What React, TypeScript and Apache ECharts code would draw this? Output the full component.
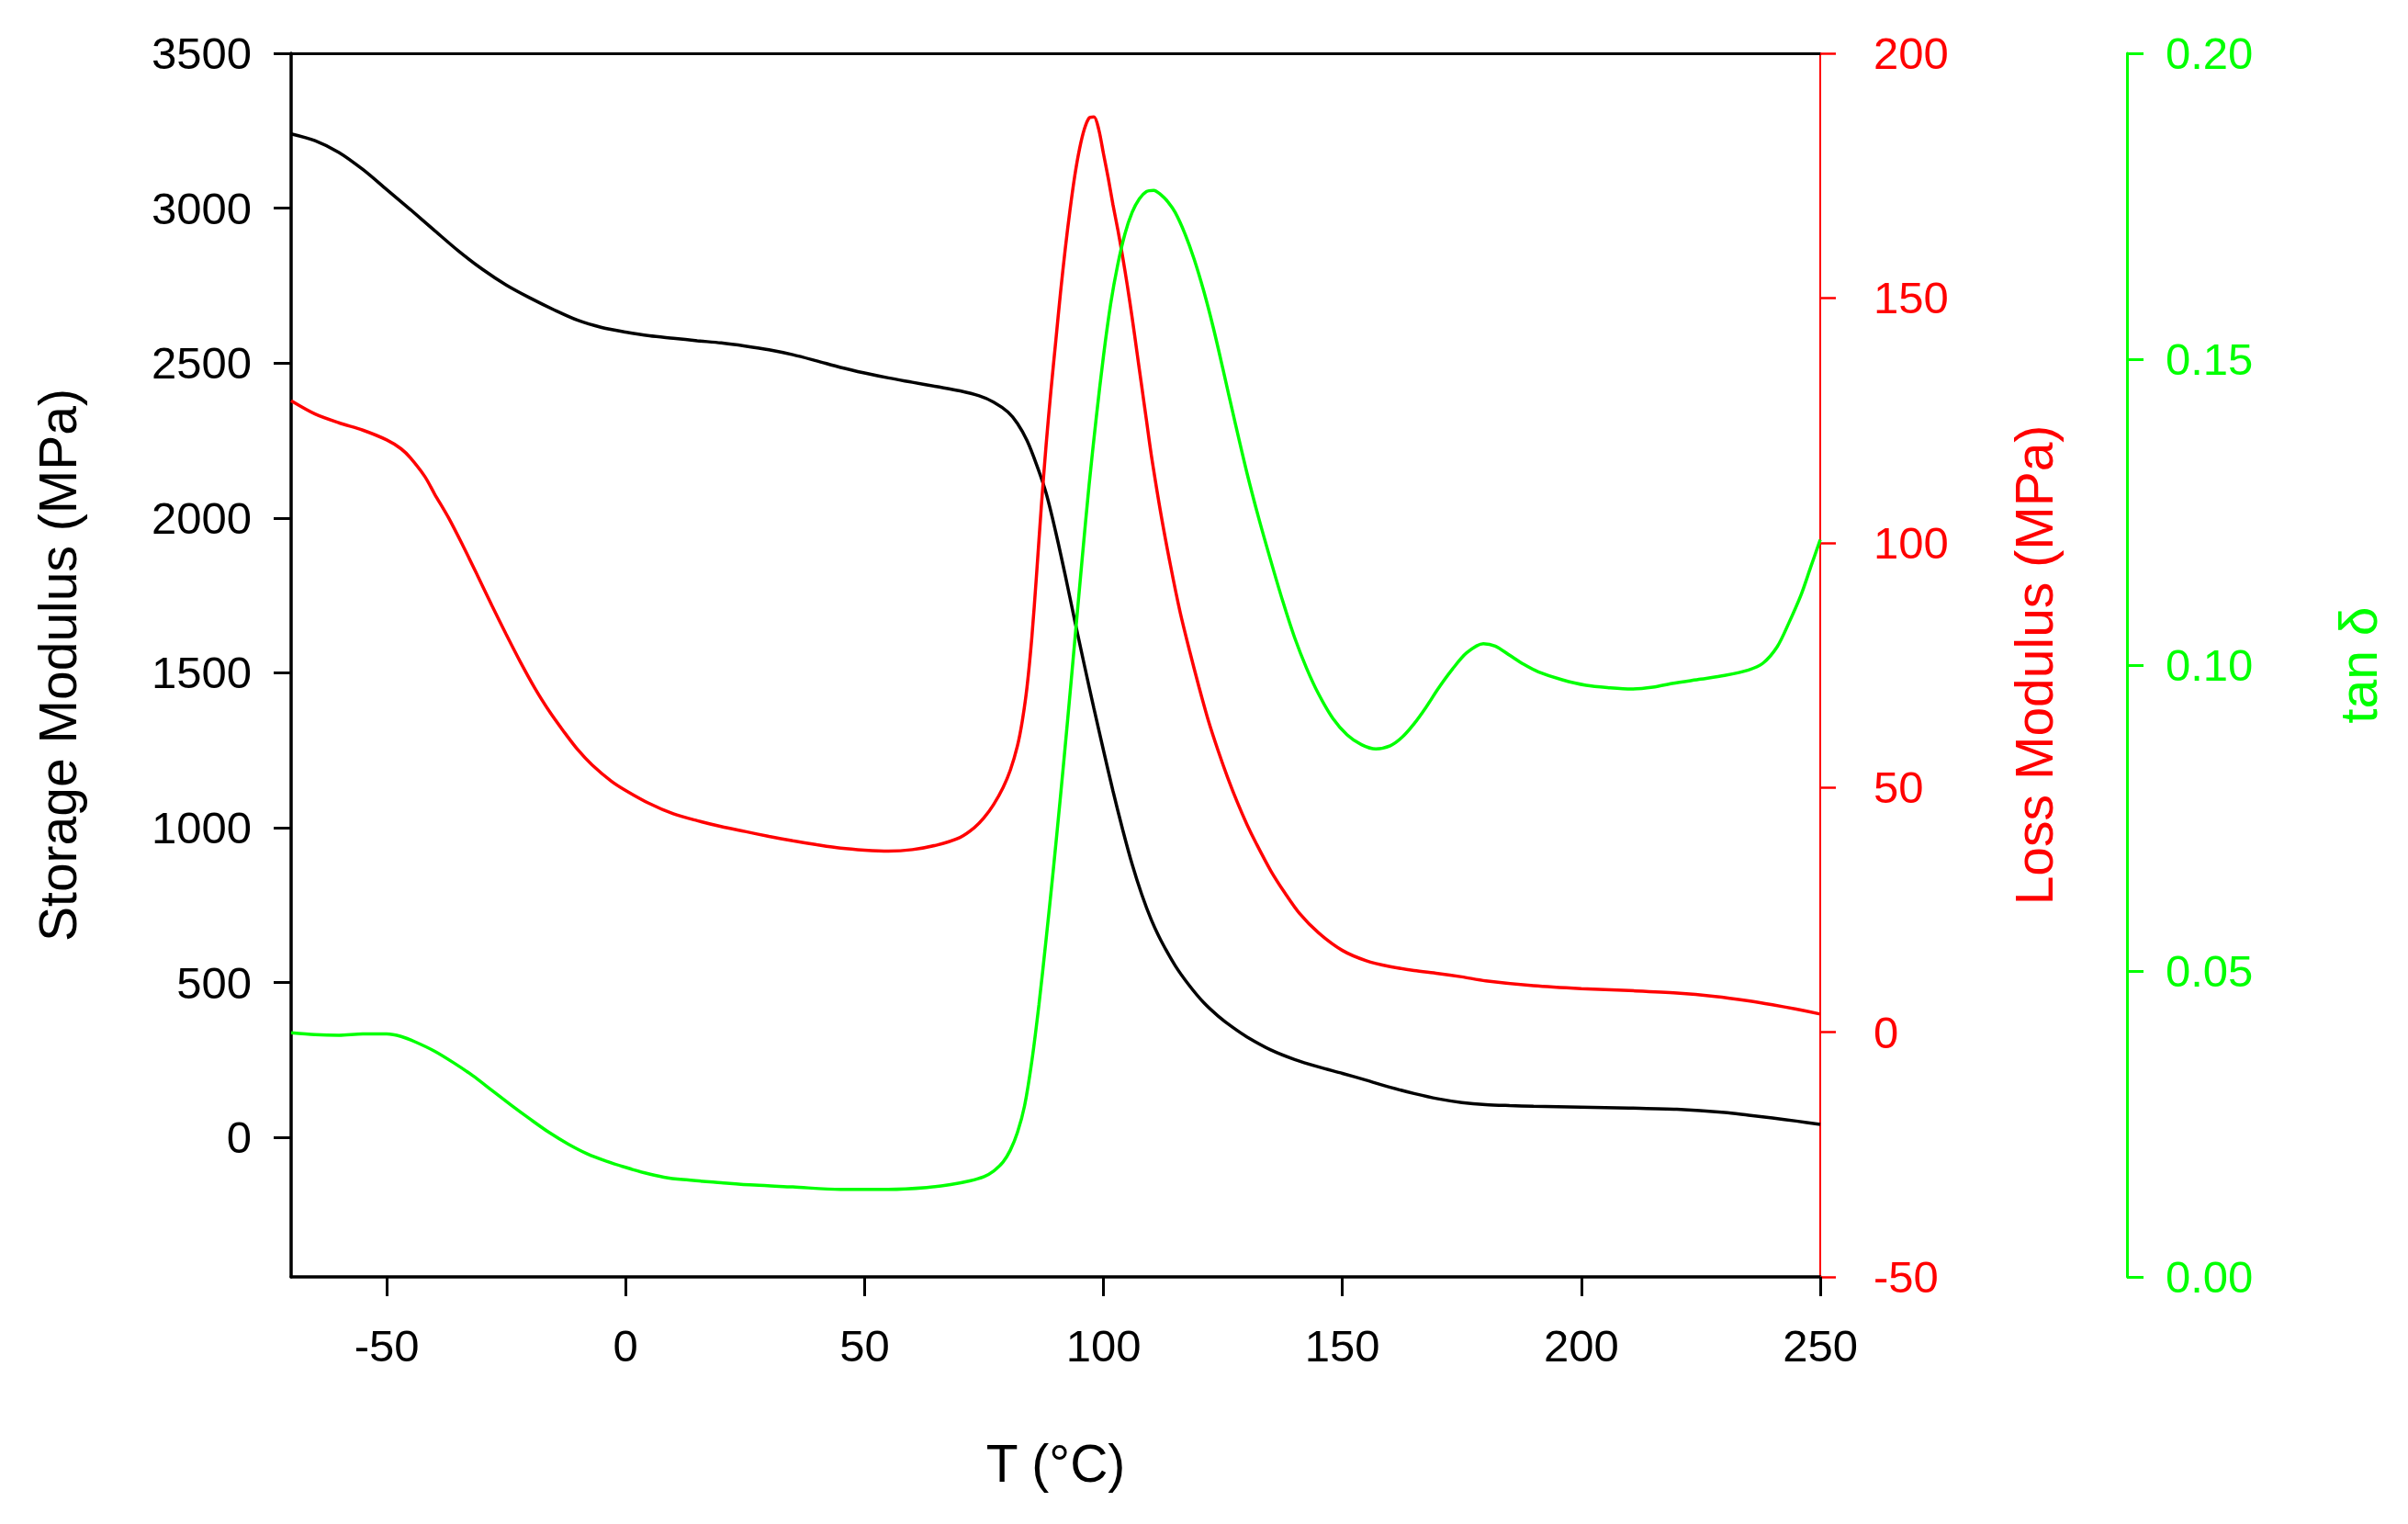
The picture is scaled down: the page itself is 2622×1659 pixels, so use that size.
import React, { useEffect, useRef } from "react";
import * as echarts from "echarts";

// ---- Data ----
const xTicks = [-50, 0, 50, 100, 150, 200, 250];
const storageTicks = [0, 500, 1000, 1500, 2000, 2500, 3000, 3500];

const storageT = [-70, -65, -60, -55, -50, -45, -40, -35, -30, -25, -20, -15, -10, -5, 0, 5, 10, 15, 20, 25, 30, 35, 40, 45, 50, 55, 60, 65, 70, 74, 77, 80, 82, 84, 86, 88, 90, 92, 94, 96, 98, 100, 102, 104, 106, 108, 110, 112, 115, 118, 121, 124, 127, 130, 135, 140, 145, 150, 155, 160, 165, 170, 175, 180, 185, 190, 200, 210, 220, 230, 235, 240, 245, 250];
const storageVal = [3240, 3218, 3180, 3125, 3060, 2995, 2928, 2862, 2803, 2752, 2710, 2672, 2638, 2615, 2600, 2588, 2580, 2572, 2565, 2555, 2543, 2527, 2507, 2486, 2468, 2452, 2438, 2424, 2410, 2394, 2374, 2342, 2305, 2250, 2172, 2080, 1955, 1815, 1668, 1525, 1385, 1250, 1118, 995, 882, 785, 703, 637, 555, 490, 435, 392, 356, 325, 283, 252, 228, 207, 185, 162, 142, 125, 113, 106, 103, 101, 98, 95, 91, 81, 72, 63, 53, 42];

const lossT = [-70, -65, -60, -55, -50, -47, -45, -42, -40, -37, -34, -31, -28, -25, -22, -19, -16, -13, -10, -7, -3, 0, 5, 10, 15, 20, 25, 30, 35, 40, 45, 50, 55, 60, 65, 70, 73, 75, 77, 79, 80.5, 82, 83, 84, 85, 86, 87, 88, 89, 90, 91, 92, 93, 94, 95, 96, 97, 98, 99, 100, 101, 102, 103, 104, 105, 106, 107, 108, 109, 110, 112, 114, 116, 118, 120, 122, 124, 126, 128, 130, 132, 135, 138, 141, 145, 150, 155, 160, 165, 170, 175, 180, 190, 200, 210, 220, 228, 235, 240, 245, 250];
const lossVal = [129, 126.3, 124.5, 123, 121, 119.2, 117.3, 113.5, 110, 105, 99.3, 93.3, 87.2, 81.3, 75.6, 70.3, 65.6, 61.5, 57.7, 54.6, 51.3, 49.4, 46.7, 44.6, 43.2, 42, 41, 40, 39.1, 38.3, 37.6, 37.2, 37, 37.3, 38.2, 39.8, 41.8, 43.8, 46.5, 50, 53.5, 58.5, 63.5, 70.5, 80.5, 93.5, 107.5, 120, 131, 141, 151, 160, 168, 175, 180.5, 184.5, 186.8, 187, 184.5, 179.5, 174.5, 169, 164, 158.5, 152.5, 146, 139, 132, 125, 118, 106, 95.5, 86, 78, 70.5, 63.5, 57.5, 52, 47, 42.5, 38.5, 33, 28.4, 24.3, 20.3, 16.7, 14.6, 13.4, 12.6, 12, 11.3, 10.5, 9.5, 8.9, 8.5, 8, 7.3, 6.4, 5.6, 4.7, 3.7];

const tanT = [-70, -65, -60, -55, -50, -47, -44, -40, -36, -32, -28, -24, -20, -16, -12, -8, -4, 0, 4, 8, 12, 20, 27, 35, 45, 55, 63, 68, 72, 75, 77, 79, 80.5, 82, 83.5, 85, 86.5, 88, 89.5, 91, 92.5, 94, 95.5, 97, 98.5, 100, 101.5, 103, 104.5, 106, 107.5, 109, 110.5, 112, 113.5, 115, 117, 119, 121, 123, 125, 127.5, 130, 132.5, 135, 137.5, 140, 142.5, 145, 148, 151, 154, 157, 160, 162.5, 165, 167.5, 170, 173, 176, 179.5, 182, 185, 188, 191, 196, 201, 206, 210.5, 215, 219, 225, 230, 235, 238, 241, 243.5, 246, 248, 250];
const tanVal = [0.0399, 0.0396, 0.0395, 0.0397, 0.0397, 0.0393, 0.0384, 0.0369, 0.035, 0.0329, 0.0305, 0.0281, 0.0258, 0.0236, 0.0217, 0.0201, 0.0189, 0.0179, 0.017, 0.0163, 0.0159, 0.0154, 0.015, 0.0147, 0.0143, 0.0143, 0.0146, 0.0151, 0.0157, 0.0164, 0.0173, 0.0188, 0.0207, 0.0236, 0.028, 0.0352, 0.0445, 0.0552, 0.0665, 0.0785, 0.091, 0.104, 0.117, 0.1295, 0.1405, 0.1505, 0.159, 0.1655, 0.1705, 0.174, 0.1762, 0.1774, 0.1776, 0.1769, 0.1757, 0.174, 0.1706, 0.1663, 0.1611, 0.1551, 0.1484, 0.1398, 0.1315, 0.124, 0.1171, 0.1105, 0.1045, 0.0995, 0.0953, 0.0913, 0.0886, 0.087, 0.0863, 0.0868, 0.0882, 0.0904, 0.0931, 0.0961, 0.0993, 0.102, 0.1035, 0.1031, 0.1016, 0.1001, 0.0989, 0.0976, 0.0967, 0.0963, 0.0961, 0.0964, 0.097, 0.0977, 0.0983, 0.0992, 0.1003, 0.103, 0.107, 0.1115, 0.116, 0.1205];

const zip = (xs: number[], ys: number[]) => xs.map((x, i) => [x, ys[i]]);

const FONT = "'Liberation Sans', Arial, Helvetica, sans-serif";
const RED = "#ff0000";
const GREEN = "#00ff00";

export default function App() {
  const ref = useRef<HTMLDivElement>(null);

  useEffect(() => {
    if (!ref.current) return;
    const chart = echarts.init(ref.current, undefined, { renderer: "svg" });
    const labelBase = { fontFamily: FONT, fontSize: 49 };
    const nameBase = { fontFamily: FONT, fontSize: 57 };
    const lineCommon = { type: "line", xAxisIndex: 0, showSymbol: false, smooth: 0.3, z: 3 };

    chart.setOption({
      animation: false,
      backgroundColor: "#ffffff",
      grid: { left: 309, top: 50, right: 632, bottom: 261, containLabel: false, outerBoundsMode: "none" },
      xAxis: [
        {
          type: "value",
          position: "bottom",
          min: -70,
          max: 250,
          name: "T (°C)",
          nameLocation: "middle",
          nameGap: 174,
          nameTextStyle: { ...nameBase, color: "#000" },
          axisLine: { show: true, onZero: false, lineStyle: { color: "#000", width: 3.5 } },
          axisTick: { show: true, inside: false, length: 21, customValues: xTicks, lineStyle: { color: "#000", width: 3 } },
          axisLabel: { ...labelBase, color: "#000", margin: 50, customValues: xTicks, formatter: (v: number) => String(v) },
          splitLine: { show: false },
        },
        {
          type: "value",
          position: "top",
          min: -70,
          max: 250,
          axisLine: { show: true, onZero: false, lineStyle: { color: "#000", width: 3 } },
          axisTick: { show: false },
          axisLabel: { show: false },
          splitLine: { show: false },
        },
      ],
      yAxis: [
        {
          type: "value",
          position: "left",
          min: -450,
          max: 3500,
          name: "Storage Modulus (MPa)",
          nameLocation: "middle",
          nameGap: 226,
          nameTextStyle: { ...nameBase, color: "#000" },
          axisLine: { show: true, onZero: false, lineStyle: { color: "#000", width: 3.5 } },
          axisTick: { show: true, inside: false, length: 19, customValues: storageTicks, lineStyle: { color: "#000", width: 3 } },
          axisLabel: { ...labelBase, color: "#000", margin: 43, customValues: storageTicks, formatter: (v: number) => String(v) },
          splitLine: { show: false },
        },
        {
          type: "value",
          position: "right",
          min: -50,
          max: 200,
          interval: 50,
          name: "Loss Modulus (MPa)",
          nameLocation: "middle",
          nameGap: 204,
          nameTextStyle: { ...nameBase, color: RED },
          axisLine: { show: true, onZero: false, lineStyle: { color: RED, width: 2 } },
          axisTick: { show: true, inside: false, length: 17, lineStyle: { color: RED, width: 2.5 } },
          axisLabel: { ...labelBase, color: RED, margin: 58, formatter: (v: number) => String(v) },
          splitLine: { show: false },
        },
        {
          type: "value",
          position: "right",
          offset: 334,
          min: 0,
          max: 0.2,
          interval: 0.05,
          name: "tan δ",
          nameLocation: "middle",
          nameGap: 223,
          nameTextStyle: { ...nameBase, color: GREEN },
          axisLine: { show: true, onZero: false, lineStyle: { color: GREEN, width: 3 } },
          axisTick: { show: true, inside: false, length: 18, lineStyle: { color: GREEN, width: 3 } },
          axisLabel: { ...labelBase, color: GREEN, margin: 42, formatter: (v: number) => v.toFixed(2) },
          splitLine: { show: false },
        },
      ],
      series: [
        {
          ...lineCommon,
          name: "Storage Modulus",
          yAxisIndex: 0,
          data: zip(storageT, storageVal),
          lineStyle: { color: "#000", width: 3.5 },
        },
        {
          ...lineCommon,
          name: "Loss Modulus",
          yAxisIndex: 1,
          data: zip(lossT, lossVal),
          lineStyle: { color: RED, width: 3.5 },
        },
        {
          ...lineCommon,
          name: "tan δ",
          yAxisIndex: 2,
          data: zip(tanT, tanVal),
          lineStyle: { color: GREEN, width: 3.5 },
        },
      ],
    });

    return () => chart.dispose();
  }, []);

  return <div ref={ref} style={{ width: 2606, height: 1643 }} />;
}
